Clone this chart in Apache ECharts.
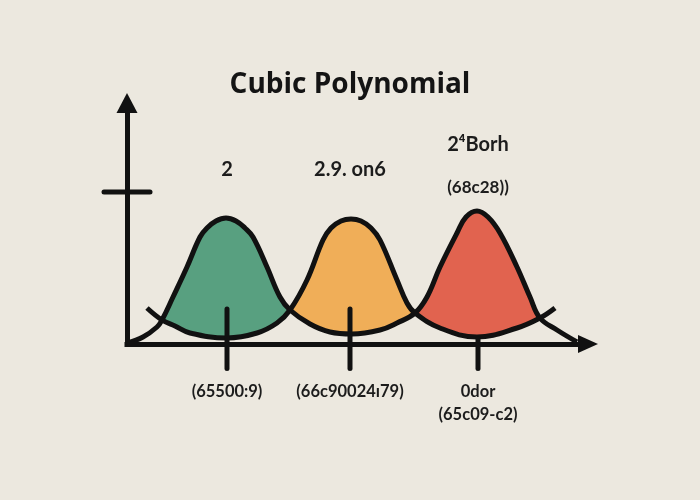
<!DOCTYPE html>
<html><head><meta charset="utf-8">
<script src="https://cdn.jsdelivr.net/npm/echarts@6/dist/echarts.min.js"></script>
<style>html,body{margin:0;padding:0;background:#ece8df;}#c{width:700px;height:500px;}</style>
</head><body><div id="c"></div>
<script>
const titleText = 'Cubic Polynomial';
// curve P: origin tail -> green bell -> orange bowl -> red bell -> tail
const curveP = [
  [0.00,0.02],[0.32,0.14],[0.60,0.34],[0.70,0.48],[0.92,0.94],[1.20,1.54],[1.46,2.14],
  [1.60,2.32],[1.78,2.46],[1.98,2.52],[2.18,2.46],[2.36,2.32],[2.52,2.14],[2.80,1.54],
  [3.06,0.94],[3.26,0.68],[3.66,0.40],[4.06,0.24],[4.50,0.20],[5.06,0.28],[5.40,0.42],
  [5.76,0.62],[6.00,0.94],[6.26,1.54],[6.60,2.22],[6.78,2.54],[7.00,2.66],[7.22,2.54],
  [7.46,2.22],[7.80,1.54],[8.06,0.94],[8.26,0.52],[8.60,0.28],[9.00,0.04]
];
// curve Q: green bowl -> orange bell -> red bowl
const curveQ = [
  [0.40,0.72],[0.70,0.48],[0.96,0.36],[1.26,0.22],[2.00,0.12],[2.60,0.22],[3.00,0.42],
  [3.26,0.68],[3.60,1.28],[3.92,2.08],[4.08,2.32],[4.28,2.46],[4.48,2.50],[4.68,2.46],
  [4.88,2.32],[5.06,2.08],[5.40,1.28],[5.60,0.82],[5.76,0.62],[6.26,0.32],[7.00,0.14],
  [7.80,0.32],[8.26,0.52],[8.56,0.72]
];
const fillRanges = [[0.70,3.26],[3.26,5.76],[5.76,8.26]];
const fillColors = ['#58a080','#f0ae58','#e1634f'];
const tickX = [2.00, 4.46, 7.02];
const tickTop = [0.70, 0.70, 0.10];
const tickBottom = [-0.49, -0.49, -0.49];
const yTickValue = 3.04;
const yTickSpan = [-0.46, 0.46];
const topLabels = ['2', '2.9. on6', '2⁴Borh'];
const topLabelY = [3.48, 3.48, 3.98];
const topSubLabels = ['', '', '(68c28))'];
const topSubY = 3.12;
const bottomLabels = ['(65500:9)', '(66c90024ı79)', '0dor'];
const bottomSubLabels = ['', '', '(65c09-c2)'];
const bottomLabelY = -0.96;
const bottomSubY = -1.42;

const FONT = 'Lato, "Open Sans", "DejaVu Sans", sans-serif';
const TITLE_FONT = '"Open Sans", Lato, "DejaVu Sans", sans-serif';
const ink = '#111111';

const labelItems = [];
tickX.forEach((x, i) => {
  labelItems.push({x: x, y: topLabelY[i], text: topLabels[i], size: 20, weight: 'bold'});
  if (topSubLabels[i]) labelItems.push({x: x, y: topSubY, text: topSubLabels[i], size: 17, weight: 'bold'});
  labelItems.push({x: x, y: bottomLabelY, text: bottomLabels[i], size: 16.5, weight: 'bold'});
  if (bottomSubLabels[i]) labelItems.push({x: x, y: bottomSubY, text: bottomSubLabels[i], size: 16.5, weight: 'bold'});
});

const chart = echarts.init(document.getElementById('c'));
const lineSeries = (data) => ({
  type: 'line', data: data, smooth: 0.4, symbol: 'none',
  lineStyle: {color: ink, width: 5, join: 'round'}, z: 3, clip: false, silent: true
});
chart.setOption({
  animation: false,
  backgroundColor: '#ece8df',
  title: {text: titleText, left: 'center', top: 66,
    textStyle: {fontSize: 28, fontWeight: 'bold', fontFamily: TITLE_FONT, color: '#141414'}},
  grid: {left: 127, right: 112, top: 103, bottom: 156},
  xAxis: {type: 'value', min: 0, max: 9.22, z: 5,
    axisLine: {show: true, symbol: ['none', 'triangle'], symbolSize: [18, 20],
      lineStyle: {color: ink, width: 5, cap: 'square'}},
    axisTick: {show: false}, axisLabel: {show: false}, splitLine: {show: false}},
  yAxis: {type: 'value', min: 0, max: 4.82, z: 5,
    axisLine: {show: true, symbol: ['none', 'triangle'], symbolSize: [21, 20],
      lineStyle: {color: ink, width: 5, cap: 'square'}},
    axisTick: {show: false}, axisLabel: {show: false}, splitLine: {show: false}},
  series: [
    {type: 'custom', z: 1, clip: false, silent: true, data: fillRanges,
      renderItem: function (params, api) {
        const i = params.dataIndex;
        const a = fillRanges[i][0] - 1e-6, b = fillRanges[i][1] + 1e-6;
        const top = curveP.filter(p => p[0] >= a && p[0] <= b);
        const bot = curveQ.filter(p => p[0] >= a && p[0] <= b).reverse();
        const pts = top.concat(bot).map(p => api.coord(p));
        return {type: 'polygon', shape: {points: pts}, style: {fill: fillColors[i]}};
      }},
    lineSeries(curveP),
    lineSeries(curveQ),
    {type: 'custom', z: 4, clip: false, silent: true,
      data: tickX.map((x, i) => [x, tickTop[i], tickBottom[i]]),
      renderItem: function (params, api) {
        const p1 = api.coord([api.value(0), api.value(1)]);
        const p2 = api.coord([api.value(0), api.value(2)]);
        return {type: 'line', shape: {x1: p1[0], y1: p1[1], x2: p2[0], y2: p2[1]},
          style: {stroke: ink, lineWidth: 5, lineCap: 'round'}};
      }},
    {type: 'custom', z: 4, clip: false, silent: true,
      data: [[yTickSpan[0], yTickValue, yTickSpan[1]]],
      renderItem: function (params, api) {
        const p1 = api.coord([api.value(0), api.value(1)]);
        const p2 = api.coord([api.value(2), api.value(1)]);
        return {type: 'line', shape: {x1: p1[0], y1: p1[1], x2: p2[0], y2: p2[1]},
          style: {stroke: ink, lineWidth: 5, lineCap: 'round'}};
      }},
    {type: 'custom', z: 6, clip: false, silent: true,
      data: labelItems.map(it => [it.x, it.y]),
      renderItem: function (params, api) {
        const it = labelItems[params.dataIndex];
        const p = api.coord([api.value(0), api.value(1)]);
        return {type: 'text', x: p[0], y: p[1],
          style: {text: it.text, fill: '#1c1c1c', fontSize: it.size, fontWeight: it.weight,
            fontFamily: FONT, align: 'center', verticalAlign: 'middle'}};
      }}
  ]
});
</script></body></html>
